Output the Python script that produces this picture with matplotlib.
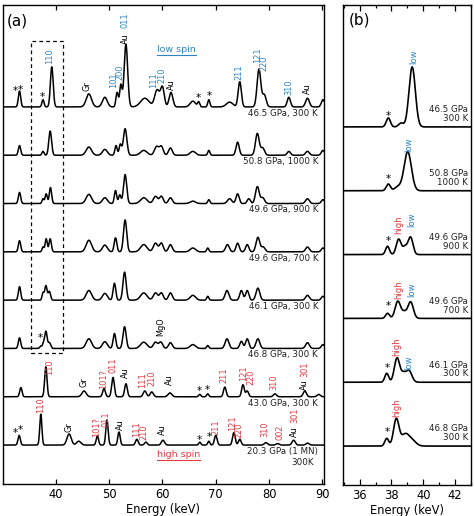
import numpy as np
import matplotlib.pyplot as plt

blue = '#2b84c6'
red = '#e63a42'

# ---------------- panel (a) ----------------
# peaks: (energy keV, height, width keV); top trace first
a1 = [(33.2, .33, .22), (37.6, .15, .2), (39.25, .83, .26), (46.2, .27, .5), (49.2, .2, .45),
      (51.5, .3, .22), (52.2, .45, .22), (53.15, 1.3, .33), (56.7, .18, .8), (59.0, .35, .45),
      (60.0, .4, .35), (61.6, .3, .35), (65.7, .12, .5), (66.8, .1, .2), (68.7, .15, .2),
      (72.6, .1, .6), (74.5, .52, .3), (78.1, .78, .35), (79.1, .25, .35), (83.7, .2, .3),
      (87.2, .18, .35), (90.1, .15, .3)]
a2 = [(33.2, .2, .22), (37.6, .08, .2), (38.95, .5, .26), (46.2, .17, .5), (49.2, .12, .45),
      (51.3, .2, .22), (52.1, .22, .22), (53.0, .55, .33), (56.5, .1, .6), (58.9, .18, .4),
      (59.8, .18, .35), (61.5, .15, .35), (65.7, .08, .5), (68.7, .1, .2), (74.1, .27, .3),
      (77.8, .45, .35), (78.8, .15, .35), (83.7, .08, .3), (87.2, .08, .35), (90.1, .1, .3)]
a3 = [(33.2, .23, .22), (37.6, .1, .18), (38.2, .2, .2), (39.0, .33, .22), (46.2, .19, .5),
      (49.2, .12, .45), (51.2, .27, .22), (52.0, .18, .22), (53.0, .6, .3), (56.5, .12, .6),
      (58.7, .15, .4), (59.8, .15, .35), (61.5, .12, .35), (65.7, .05, .5), (68.7, .08, .2),
      (72.6, .1, .4), (74.1, .2, .3), (76.2, .1, .3), (77.8, .35, .35), (78.8, .12, .35),
      (87.2, .1, .35), (90.1, .08, .3)]
a4 = [(33.2, .23, .22), (37.6, .1, .18), (38.2, .27, .2), (38.95, .27, .22), (46.2, .24, .5),
      (49.2, .14, .45), (51.2, .29, .25), (53.0, .66, .3), (56.5, .15, .6), (58.7, .18, .4),
      (59.8, .18, .35), (61.5, .15, .35), (65.7, .08, .5), (68.5, .08, .2), (72.2, .15, .35),
      (74.1, .18, .3), (75.9, .15, .3), (77.9, .3, .35), (78.9, .1, .35), (87.2, .1, .35),
      (90.1, .08, .3)]
a5 = [(33.2, .28, .22), (37.6, .15, .18), (38.15, .3, .22), (38.8, .18, .22), (46.2, .2, .5),
      (49.2, .14, .45), (51.0, .35, .25), (52.9, .58, .3), (56.5, .15, .6), (58.7, .15, .4),
      (59.8, .15, .35), (61.5, .15, .35), (65.7, .1, .5), (68.5, .08, .2), (72.1, .2, .35),
      (74.8, .2, .3), (75.9, .2, .3), (77.9, .25, .35), (87.2, .1, .35), (90.1, .08, .3)]
a6 = [(33.2, .22, .22), (37.2, .05, .2), (37.7, .1, .18), (38.15, .35, .22), (38.8, .12, .25),
      (46.2, .2, .5), (49.2, .14, .45), (51.0, .31, .25), (52.9, .45, .3), (56.5, .13, .6),
      (58.7, .13, .4), (59.7, .13, .35), (61.5, .12, .35), (65.7, .08, .5), (68.5, .06, .2),
      (72.1, .2, .35), (74.8, .15, .3), (75.9, .2, .3), (77.9, .2, .35), (87.2, .12, .35),
      (90.1, .08, .3)]
a7 = [(33.45, .19, .22), (38.13, .62, .22), (45.3, .12, .4), (49.04, .17, .25), (50.73, .4, .25),
      (53.16, .27, .25), (56.7, .12, .3), (58.0, .1, .3), (61.4, .08, .35), (67.0, .05, .2),
      (68.5, .06, .2), (71.7, .2, .25), (75.1, .25, .25), (75.9, .12, .25), (81.1, .06, .3),
      (86.7, .12, .3), (89.3, .05, .3)]
a8 = [(33.13, .2, .22), (37.19, .64, .2), (42.5, .23, .4), (44.3, .08, .4), (47.8, .19, .22),
      (49.6, .52, .22), (51.85, .27, .22), (55.2, .12, .25), (56.9, .06, .25), (60.1, .1, .3),
      (67.0, .06, .2), (68.7, .08, .2), (70.0, .2, .25), (73.4, .26, .25), (74.5, .12, .25),
      (79.4, .05, .3), (81.6, .03, .3), (84.6, .1, .3), (87.2, .04, .3)]
traces_a = [a1, a2, a3, a4, a5, a6, a7, a8]
cond_a = ['46.5 GPa, 300 K', '50.8 GPa, 1000 K', '49.6 GPa, 900 K', '49.6 GPa, 700 K',
          '46.1 GPa, 300 K', '46.8 GPa, 300 K', '43.0 GPa, 300 K', '20.3 GPa (1 MN)']

# peak labels: (text, energy, y, colour)
lab_a = [('*', 32.4, 7.37, 'k'), ('*', 33.3, 7.41, 'k'), ('*', 37.43, 7.25, 'k'),
         ('110', 38.75, 8.04, blue), ('Gr', 45.86, 7.43, 'k'), ('101', 50.75, 7.56, blue),
         ('200', 51.95, 7.72, blue), ('Au', 52.97, 8.42, 'k'), ('011', 52.97, 8.79, blue),
         ('111', 58.4, 7.56, blue), ('210', 59.9, 7.66, blue), ('Au', 61.6, 7.46, 'k'),
         ('*', 66.8, 7.23, 'k'), ('*', 68.7, 7.27, 'k'), ('211', 74.3, 7.72, blue),
         ('121', 77.8, 8.08, blue), ('220', 79.1, 7.91, blue), ('310', 83.7, 7.41, blue),
         ('Au', 87.2, 7.37, 'k'),
         ('*', 37.19, 2.26, 'k'), ('MgO', 59.66, 2.45, 'k'),
         ('110', 38.8, 1.62, red), ('Gr', 45.3, 1.31, 'k'), ('101?', 49.0, 1.37, red),
         ('011', 50.8, 1.66, red), ('Au', 53.1, 1.49, 'k'), ('111', 56.33, 1.35, red),
         ('210', 58.0, 1.39, red), ('Au', 61.4, 1.35, 'k'), ('*', 67.0, 1.16, 'k'),
         ('*', 68.5, 1.18, 'k'), ('211', 71.5, 1.45, red), ('121', 75.2, 1.49, red),
         ('220', 76.6, 1.41, red), ('310', 80.9, 1.31, red), ('Au', 86.7, 1.25, 'k'),
         ('301', 86.7, 1.57, red),
         ('*', 32.4, 0.31, 'k'), ('*', 33.3, 0.37, 'k'), ('110', 37.19, 0.83, red),
         ('Gr', 42.49, 0.37, 'k'), ('101?', 47.65, 0.37, red), ('011', 49.5, 0.54, red),
         ('Au', 52.04, 0.42, 'k'), ('111', 55.15, 0.33, red), ('210', 56.6, 0.27, red),
         ('Au', 60.09, 0.31, 'k'), ('*', 67.0, 0.15, 'k'), ('*', 68.7, 0.21, 'k'),
         ('211', 70.0, 0.37, red), ('121', 73.1, 0.46, red), ('220', 74.4, 0.31, red),
         ('310', 79.2, 0.33, red), ('002', 82.0, 0.27, red), ('Au', 84.8, 0.27, 'k'),
         ('301', 84.8, 0.62, red)]

# ---------------- panel (b) ----------------
b1 = [(37.8, .14, .13), (38.6, .06, .15), (39.3, .94, .2)]
b2 = [(37.8, .105, .13), (38.4, .06, .2), (39.02, .61, .23)]
b3 = [(37.75, .13, .12), (38.45, .24, .15), (38.85, .12, .15), (39.2, .27, .15)]
b4 = [(37.75, .08, .12), (38.4, .27, .17), (38.8, .09, .15), (39.2, .26, .17)]
b5 = [(37.7, .14, .12), (38.35, .38, .17), (38.75, .12, .15), (39.1, .18, .18)]
b6 = [(37.7, .12, .12), (38.3, .42, .17), (38.85, .18, .25), (39.3, .08, .25)]
traces_b = [b1, b2, b3, b4, b5, b6]
press_b = ['46.5 GPa', '50.8 GPa', '49.6 GPa', '49.6 GPa', '46.1 GPa', '46.8 GPa']
temp_b = ['300 K', '1000 K', '900 K', '700 K', '300 K', '300 K']

lab_b = [('*', 37.81, 5.22, 'k'), ('low', 39.375, 6.10, blue),
         ('*', 37.81, 4.24, 'k'), ('low', 39.06, 4.72, blue),
         ('*', 37.81, 3.27, 'k'), ('high', 38.44, 3.47, red), ('low', 39.25, 3.55, blue),
         ('*', 37.81, 2.24, 'k'), ('high', 38.44, 2.45, red), ('low', 39.25, 2.45, blue),
         ('*', 37.75, 1.28, 'k'), ('high', 38.31, 1.56, red), ('low', 39.06, 1.30, blue),
         ('*', 37.75, 0.27, 'k'), ('high', 38.31, 0.60, red)]


def spectrum(x, peaks):
    y = np.zeros_like(x)
    for e, h, w in peaks:
        y += h * np.exp(-(x - e) ** 2 / (2 * w * w))
    return y


def put_labels(ax, labels, size, star=7.5):
    for txt, x, y, c in labels:
        if txt == '*':
            ax.text(x, y - 0.05, txt, color=c, fontsize=star, ha='center', va='center')
        else:
            ax.text(x, y, txt, color=c, fontsize=size, rotation=90, ha='center', va='center')


def underline(ax, t, color):
    fig.canvas.draw()
    bb = t.get_window_extent(fig.canvas.get_renderer())
    inv = ax.transData.inverted()
    (x0, y0), (x1, y1) = inv.transform([(bb.x0, bb.y0 - 0.5), (bb.x1, bb.y0 - 0.5)])
    ax.plot([x0, x1], [y0, y1], color=color, lw=0.8)


fig = plt.figure(figsize=(4.74, 5.16), dpi=100)
axa = fig.add_axes([3 / 474, 32 / 516, 321 / 474, 479 / 516])
axb = fig.add_axes([343 / 474, 31 / 516, 128 / 474, 480 / 516])

# panel (a)
xa = np.linspace(30.1, 90.3, 2000)
n = len(traces_a)
for i, pk in enumerate(traces_a):
    off = n - 1 - i
    axa.plot(xa, spectrum(xa, pk) + off, color='k', lw=1.1)
    axa.text(89.2, off - 0.13, cond_a[i], fontsize=6.3, ha='right', va='center', color='#222222')
axa.text(88.4, -0.37, '300K', fontsize=6.3, ha='right', va='center', color='#222222')
put_labels(axa, lab_a, 5.9)
axa.plot([35.38, 41.37, 41.37, 35.38, 35.38], [1.91, 1.91, 8.37, 8.37, 1.91],
         color='k', lw=0.9, ls=(0, (3, 2.5)))
t1 = axa.text(62.6, 8.18, 'low spin', color=blue, fontsize=6.8, ha='center', va='center')
t2 = axa.text(63.0, -0.2, 'high spin', color=red, fontsize=6.8, ha='center', va='center')
axa.text(0.045, 0.967, '(a)', transform=axa.transAxes, fontsize=11, ha='center', va='center')
axa.set_xlim(30.1, 90.3)
axa.set_ylim(-0.806, 9.11)
axa.set_xticks([40, 50, 60, 70, 80, 90])
axa.set_yticks([])
axa.tick_params(axis='x', direction='in', top=True, length=3.5, width=0.9, labelsize=8.3, pad=3)
axa.set_xlabel('Energy (keV)', fontsize=8.3, labelpad=1)

# panel (b)
xb = np.linspace(34.95, 42.95, 1200)
m = len(traces_b)
for i, pk in enumerate(traces_b):
    off = m - 1 - i
    axb.plot(xb, spectrum(xb, pk) + off, color='k', lw=1.2)
    axb.text(42.81, off + 0.27, press_b[i], fontsize=6.3, ha='right', va='center', color='#222222')
    axb.text(42.81, off + 0.13, temp_b[i], fontsize=6.3, ha='right', va='center', color='#222222')
put_labels(axb, lab_b, 6.1)
axb.text(0.125, 0.969, '(b)', transform=axb.transAxes, fontsize=11, ha='center', va='center')
axb.set_xlim(34.95, 42.95)
axb.set_ylim(-0.61, 6.91)
axb.set_xticks([36, 38, 40, 42])
axb.set_xticks([35, 37, 39, 41, 43], minor=True)
axb.set_yticks([])
axb.tick_params(axis='x', which='both', direction='in', top=True, width=0.9, labelsize=8.3, pad=3)
axb.tick_params(axis='x', which='major', length=4)
axb.tick_params(axis='x', which='minor', length=2.5)
axb.set_xlabel('Energy (keV)', fontsize=8.3, labelpad=1)

for ax in (axa, axb):
    for s in ax.spines.values():
        s.set_linewidth(1.0)

underline(axa, t1, blue)
underline(axa, t2, red)

fig.savefig('out.png', dpi=100)
